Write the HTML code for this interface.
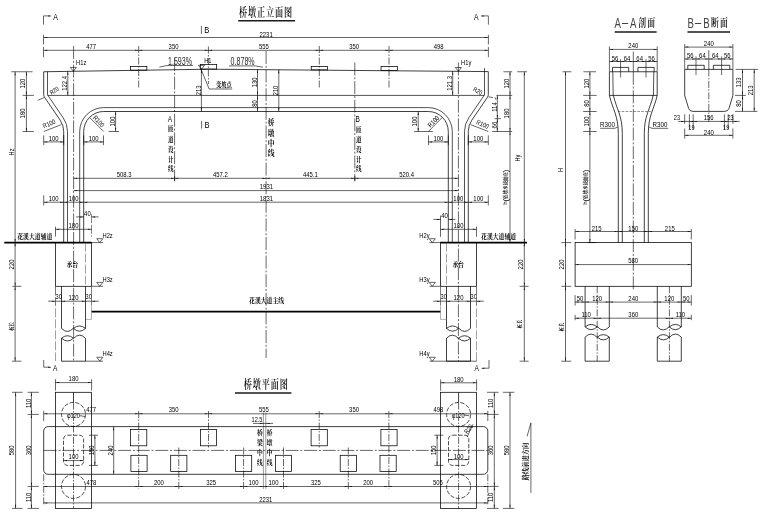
<!DOCTYPE html>
<html lang="zh">
<head>
<meta charset="utf-8">
<title>桥墩正立面图</title>
<style>
html,body{margin:0;padding:0;background:#fff;}
body{width:760px;height:518px;overflow:hidden;}
svg{display:block;will-change:transform;}
.l{fill:none;stroke:#000;stroke-width:0.75;}
.d{fill:none;stroke:#000;stroke-width:0.6;}
.m{fill:none;stroke:#000;stroke-width:0.68;}
.g{fill:none;stroke:#555;stroke-width:0.55;stroke-dasharray:9 2;}
.g2{fill:none;stroke:#222;stroke-width:0.55;stroke-dasharray:9 1.6;}
.d2{fill:none;stroke:#333;stroke-width:0.5;}
.gs{fill:none;stroke:#666;stroke-width:0.5;}
.k{fill:none;stroke:#000;stroke-width:1.7;}
.u{fill:none;stroke:#1a1a1a;stroke-width:1.45;}
.cl{fill:none;stroke:#000;stroke-width:0.6;stroke-dasharray:13 1.8 2 1.8;}
.cs{fill:none;stroke:#000;stroke-width:0.6;stroke-dasharray:7 1.5 1.5 1.5;}
.hd{fill:none;stroke:#000;stroke-width:0.7;stroke-dasharray:4.2 1.6;}
.hs{fill:none;stroke:#333;stroke-width:0.55;stroke-dasharray:2.6 1.3;}
.a{fill:#000;stroke:none;}
text{fill:#000;}
.t{font-family:"Liberation Sans",sans-serif;}
.c{font-family:"Liberation Serif","Noto Serif CJK SC","Noto Sans CJK SC",serif;font-weight:700;}
.cb{font-weight:600;}
.tl{fill:#444;}
.ts{fill:#2a2a2a;}
</style>
</head>
<body>
<svg width="760" height="518" viewBox="0 0 760 518">
<rect x="0" y="0" width="760" height="518" fill="#fff"/>
<path class="l" d="M43.7,71.75 L208.5,69.2 L488.3,71.6"/>
<line class="m" x1="47.7" y1="95.4" x2="484.3" y2="95.4"/>
<path class="l" d="M43.7,71.75 V94.5 Q43.7,96 44.5,97.2 L60.22,120.23 A20,20 0 0 1 63.7,131.5 V242.6"/>
<path class="m" d="M47.5,71.75 V94.83 L63.36,118.09 A23.8,23.8 0 0 1 67.5,131.5 V242.6"/>
<path class="l" d="M488.3,71.6 V94.5 Q488.3,96 487.5,97.2 L471.78,120.23 A20,20 0 0 0 468.3,131.5 V242.6"/>
<path class="m" d="M484.5,68.1 V94.83 L468.64,118.09 A23.8,23.8 0 0 0 464.5,131.5 V242.6"/>
<path class="m" d="M79.7,242.6 V131.5 A24,24 0 0 1 103.7,107.6 H428.3 A24,24 0 0 1 452.3,131.5 V242.6"/>
<path class="l" d="M83.7,242.6 V131.5 A20,20 0 0 1 103.7,111.5 H428.3 A20,20 0 0 1 448.3,131.5 V242.6"/>
<rect class="l" x="130.55" y="66.5" width="16.3" height="3.7"/>
<rect class="l" x="200.35" y="64.6" width="16.3" height="4.5"/>
<rect class="l" x="311.25" y="66.4" width="16.3" height="3.5"/>
<rect class="l" x="381.05" y="66.6" width="16.3" height="3.9"/>
<line class="cs" x1="138.7" y1="46" x2="138.7" y2="89"/>
<line class="cs" x1="319.3" y1="46" x2="319.3" y2="89"/>
<line class="cs" x1="389" y1="46" x2="389" y2="89"/>
<line class="cs" x1="208.4" y1="46.5" x2="208.4" y2="84"/>
<line class="k" x1="4.3" y1="242.6" x2="91.5" y2="242.6"/>
<line class="k" x1="440.5" y1="242.6" x2="527" y2="242.6"/>
<line class="k" x1="91.5" y1="311.6" x2="440.5" y2="311.6"/>
<rect class="l" x="55.5" y="242.6" width="36" height="43.7"/>
<rect class="l" x="440.5" y="242.6" width="36" height="43.7"/>
<line class="l" x1="61.5" y1="286.3" x2="61.5" y2="328.4"/>
<line class="l" x1="85.5" y1="286.3" x2="85.5" y2="328.4"/>
<line class="l" x1="61.5" y1="338.2" x2="61.5" y2="361.2"/>
<line class="l" x1="85.5" y1="338.2" x2="85.5" y2="361.2"/>
<line class="l" x1="61.5" y1="361.2" x2="85.5" y2="361.2"/>
<path class="l" d="M61.5,328.4 Q67.5,334.6 73.5,328.1"/>
<path class="l" d="M73.5,328.4 Q79.5,323.44 85.5,328.4 Q79.5,333.98 73.5,328.4"/>
<path class="l" d="M61.5,338.2 Q67.5,333.24 73.5,338.2 Q67.5,343.78 61.5,338.2"/>
<path class="l" d="M73.5,338.5 Q79.5,332 85.5,338.2"/>
<line class="l" x1="446.5" y1="286.3" x2="446.5" y2="328.4"/>
<line class="l" x1="470.5" y1="286.3" x2="470.5" y2="328.4"/>
<line class="l" x1="446.5" y1="338.2" x2="446.5" y2="361.2"/>
<line class="l" x1="470.5" y1="338.2" x2="470.5" y2="361.2"/>
<line class="l" x1="446.5" y1="361.2" x2="470.5" y2="361.2"/>
<path class="l" d="M470.5,328.4 Q464.5,334.6 458.5,328.1"/>
<path class="l" d="M458.5,328.4 Q452.5,323.44 446.5,328.4 Q452.5,333.98 458.5,328.4"/>
<path class="l" d="M470.5,338.2 Q464.5,333.24 458.5,338.2 Q464.5,343.78 470.5,338.2"/>
<path class="l" d="M458.5,338.5 Q452.5,332 446.5,338.2"/>
<line class="cl" x1="73.6" y1="46" x2="73.6" y2="361.2"/>
<line class="cl" x1="458.4" y1="62.5" x2="458.4" y2="361.2"/>
<line class="cl" x1="266.1" y1="51" x2="266.1" y2="358"/>
<line class="cl" x1="174.6" y1="58" x2="174.6" y2="181"/>
<line class="cl" x1="354.8" y1="62.5" x2="354.8" y2="181"/>
<line class="g" x1="85.5" y1="242.6" x2="85.5" y2="286.3"/>
<line class="g" x1="446.5" y1="242.6" x2="446.5" y2="286.3"/>
<line class="g" x1="55.5" y1="286.3" x2="55.5" y2="361.2"/>
<line class="g" x1="476.5" y1="286.3" x2="476.5" y2="361.2"/>
<path class="gs" d="M91.5,286.3 V319.4 H85.5"/>
<path class="gs" d="M440.5,286.3 V319.4 H446.5"/>
<line class="d" x1="85.5" y1="361.2" x2="103" y2="361.2"/>
<line class="d" x1="429.5" y1="361.2" x2="476.5" y2="361.2"/>
<line class="d" x1="43.5" y1="34.8" x2="43.5" y2="44.3"/>
<line class="d" x1="43.5" y1="47" x2="43.5" y2="57.2"/>
<line class="d" x1="488.4" y1="34.8" x2="488.4" y2="44.3"/>
<line class="d" x1="488.4" y1="47" x2="488.4" y2="57.2"/>
<line class="d" x1="43.7" y1="37.5" x2="488.3" y2="37.5"/>
<polygon class="a" points="43.7,37.5 47.3,37 47.3,38"/>
<polygon class="a" points="488.3,37.5 484.7,38 484.7,37"/>
<text class="t" transform="translate(266.1 33.9) scale(0.8 1)" y="2.66" font-size="7.4" text-anchor="middle">2231</text>
<line class="d" x1="43.7" y1="50.3" x2="488.3" y2="50.3"/>
<polygon class="a" points="43.7,50.3 47.3,49.8 47.3,50.8"/>
<polygon class="a" points="138.7,50.3 135.1,50.8 135.1,49.8"/>
<polygon class="a" points="138.7,50.3 142.3,49.8 142.3,50.8"/>
<polygon class="a" points="208.4,50.3 204.8,50.8 204.8,49.8"/>
<polygon class="a" points="208.4,50.3 212,49.8 212,50.8"/>
<polygon class="a" points="319.3,50.3 315.7,50.8 315.7,49.8"/>
<polygon class="a" points="319.3,50.3 322.9,49.8 322.9,50.8"/>
<polygon class="a" points="389,50.3 385.4,50.8 385.4,49.8"/>
<polygon class="a" points="389,50.3 392.6,49.8 392.6,50.8"/>
<polygon class="a" points="488.3,50.3 484.7,50.8 484.7,49.8"/>
<text class="t" transform="translate(91.2 46.5) scale(0.8 1)" y="2.66" font-size="7.4" text-anchor="middle">477</text>
<text class="t" transform="translate(173.55 46.5) scale(0.8 1)" y="2.66" font-size="7.4" text-anchor="middle">350</text>
<text class="t" transform="translate(263.85 46.5) scale(0.8 1)" y="2.66" font-size="7.4" text-anchor="middle">555</text>
<text class="t" transform="translate(354.15 46.5) scale(0.8 1)" y="2.66" font-size="7.4" text-anchor="middle">350</text>
<text class="t" transform="translate(438.65 46.5) scale(0.8 1)" y="2.66" font-size="7.4" text-anchor="middle">498</text>
<path class="d" d="M43.5,24.7 V15.9 H50.5"/>
<polygon class="a" points="51.8,15.9 48.2,16.4 48.2,15.4"/>
<text class="t" transform="translate(55.5 16.5) scale(0.73 1)" y="3.38" font-size="9.4" text-anchor="middle">A</text>
<path class="d" d="M488.4,24.7 V15.9 H481.5"/>
<polygon class="a" points="480.2,15.9 483.8,15.4 483.8,16.4"/>
<text class="t" transform="translate(476.4 16.6) scale(0.73 1)" y="3.38" font-size="9.4" text-anchor="middle">A</text>
<path class="d" d="M43.7,360 V367.2 H50.5"/>
<polygon class="a" points="51.6,367.2 48,367.7 48,366.7"/>
<text class="t" transform="translate(55.3 368.2) scale(0.73 1)" y="3.24" font-size="9" text-anchor="middle">A</text>
<path class="d" d="M489,360 V368.2 H482"/>
<polygon class="a" points="480.9,368.2 484.5,367.7 484.5,368.7"/>
<text class="t" transform="translate(476.7 368.2) scale(0.73 1)" y="3.24" font-size="9" text-anchor="middle">A</text>
<line class="d" x1="201.4" y1="25.9" x2="201.4" y2="33.9"/>
<text class="t" transform="translate(206.8 29.8) scale(0.82 1)" y="3.31" font-size="9.2" text-anchor="middle">B</text>
<line class="d" x1="201.6" y1="120.8" x2="201.6" y2="128.7"/>
<text class="t" transform="translate(207 124.7) scale(0.82 1)" y="3.31" font-size="9.2" text-anchor="middle">B</text>
<text class="c cb" transform="translate(265.6 12.8) scale(0.66 1)" y="4.43" font-size="12.3" text-anchor="middle" letter-spacing="1.35" x="0.68">桥墩正立面图</text>
<line class="u" x1="238.2" y1="20.7" x2="295" y2="20.7"/>
<text class="t ts" transform="translate(180 61.3) scale(0.71 1)" y="3.6" font-size="10" text-anchor="middle">1.593%</text>
<path class="d" d="M192.8,65.5 H167.1 L159.4,67.1"/>
<text class="t ts" transform="translate(242.6 61.6) scale(0.71 1)" y="3.6" font-size="10" text-anchor="middle">0.878%</text>
<path class="d" d="M229,65.9 H255.2 L262.9,67.2"/>
<path class="d" d="M73.4,71.3 L70.35,67.4 L76.45,67.4 Z"/>
<text class="t" transform="translate(76.1 61.9) scale(0.76 1)" y="2.74" font-size="7.6" text-anchor="start">H1z</text>
<path class="d" d="M201.5,69.2 L198.45,65.3 L204.55,65.3 Z"/>
<text class="t" transform="translate(204.2 60.6) scale(0.76 1)" y="2.74" font-size="7.6" text-anchor="start">H1</text>
<path class="d" d="M458.4,71.4 L455.35,67.5 L461.45,67.5 Z"/>
<text class="t" transform="translate(461.1 62.2) scale(0.76 1)" y="2.74" font-size="7.6" text-anchor="start">H1y</text>
<line class="d" x1="91.5" y1="242.6" x2="103" y2="242.6"/>
<path class="d" d="M99.8,242.6 L96.75,238.7 L102.85,238.7 Z"/>
<text class="t" transform="translate(102.5 235.1) scale(0.76 1)" y="2.74" font-size="7.6" text-anchor="start">H2z</text>
<line class="d" x1="91.5" y1="286.3" x2="103" y2="286.3"/>
<path class="d" d="M99.8,286.3 L96.75,282.4 L102.85,282.4 Z"/>
<text class="t" transform="translate(102.5 278.8) scale(0.76 1)" y="2.74" font-size="7.6" text-anchor="start">H3z</text>
<path class="d" d="M99.8,361.2 L96.75,357.3 L102.85,357.3 Z"/>
<text class="t" transform="translate(102.5 353.7) scale(0.76 1)" y="2.74" font-size="7.6" text-anchor="start">H4z</text>
<line class="d" x1="429.5" y1="242.6" x2="440.5" y2="242.6"/>
<path class="d" d="M432.3,242.6 L429.25,238.7 L435.35,238.7 Z"/>
<text class="t" transform="translate(429.6 235.1) scale(0.76 1)" y="2.74" font-size="7.6" text-anchor="end">H2y</text>
<line class="d" x1="429.5" y1="286.3" x2="440.5" y2="286.3"/>
<path class="d" d="M432.3,286.3 L429.25,282.4 L435.35,282.4 Z"/>
<text class="t" transform="translate(429.6 278.8) scale(0.76 1)" y="2.74" font-size="7.6" text-anchor="end">H3y</text>
<path class="d" d="M432.3,361.2 L429.25,357.3 L435.35,357.3 Z"/>
<text class="t" transform="translate(429.6 353.7) scale(0.76 1)" y="2.74" font-size="7.6" text-anchor="end">H4y</text>
<path class="d" d="M201,69.2 L209.2,89 H232.2"/>
<text class="c" transform="translate(223.9 84.6) scale(0.81 1)" y="2.34" font-size="6.5" text-anchor="middle">变坡点</text>
<line class="d" x1="67.8" y1="71.2" x2="67.8" y2="95.4"/>
<polygon class="a" points="67.8,71.2 68.3,74.8 67.3,74.8"/>
<polygon class="a" points="67.8,95.4 67.3,91.8 68.3,91.8"/>
<text class="t" transform="translate(64 83.3) rotate(-90) scale(0.8 1)" y="2.66" font-size="7.4" text-anchor="middle">122.4</text>
<line class="d" x1="201.4" y1="69.2" x2="201.4" y2="111.5"/>
<polygon class="a" points="201.4,69.2 201.9,72.8 200.9,72.8"/>
<polygon class="a" points="201.4,111.5 200.9,107.9 201.9,107.9"/>
<text class="t" transform="translate(198.1 90.35) rotate(-90) scale(0.8 1)" y="2.66" font-size="7.4" text-anchor="middle">213</text>
<line class="d" x1="257.5" y1="69.4" x2="257.5" y2="111.5"/>
<polygon class="a" points="257.5,69.4 258,73 257,73"/>
<polygon class="a" points="257.5,95.4 257,91.8 258,91.8"/>
<polygon class="a" points="257.5,95.4 258,99 257,99"/>
<polygon class="a" points="257.5,111.5 257,107.9 258,107.9"/>
<text class="t" transform="translate(254.3 82.4) rotate(-90) scale(0.8 1)" y="2.66" font-size="7.4" text-anchor="middle">130</text>
<text class="t" transform="translate(254.3 103.45) rotate(-90) scale(0.8 1)" y="2.66" font-size="7.4" text-anchor="middle">80</text>
<line class="d" x1="278.8" y1="69.6" x2="278.8" y2="111.5"/>
<polygon class="a" points="278.8,69.6 279.3,73.2 278.3,73.2"/>
<polygon class="a" points="278.8,111.5 278.3,107.9 279.3,107.9"/>
<text class="t" transform="translate(275.2 90.55) rotate(-90) scale(0.8 1)" y="2.66" font-size="7.4" text-anchor="middle">210</text>
<line class="d" x1="452.7" y1="71.2" x2="452.7" y2="95.4"/>
<polygon class="a" points="452.7,71.2 453.2,74.8 452.2,74.8"/>
<polygon class="a" points="452.7,95.4 452.2,91.8 453.2,91.8"/>
<text class="t" transform="translate(449.3 83.3) rotate(-90) scale(0.8 1)" y="2.66" font-size="7.4" text-anchor="middle">121.3</text>
<line class="d" x1="115.6" y1="111.5" x2="115.6" y2="131.5"/>
<polygon class="a" points="115.6,111.5 116.1,115.1 115.1,115.1"/>
<polygon class="a" points="115.6,131.5 115.1,127.9 116.1,127.9"/>
<text class="t" transform="translate(112.1 121.5) rotate(-90) scale(0.8 1)" y="2.66" font-size="7.4" text-anchor="middle">100</text>
<line class="d" x1="108.6" y1="131.5" x2="119" y2="131.5"/>
<line class="d" x1="418.2" y1="111.5" x2="418.2" y2="131.5"/>
<polygon class="a" points="418.2,111.5 418.7,115.1 417.7,115.1"/>
<polygon class="a" points="418.2,131.5 417.7,127.9 418.7,127.9"/>
<text class="t" transform="translate(414.2 121.5) rotate(-90) scale(0.8 1)" y="2.66" font-size="7.4" text-anchor="middle">100</text>
<line class="d" x1="414" y1="131.5" x2="432.8" y2="131.5"/>
<line class="d" x1="103.7" y1="131.5" x2="89.6" y2="117.4"/>
<text class="t" transform="translate(98.8 121.2) rotate(45) scale(0.8 1)" y="2.45" font-size="6.8" text-anchor="middle">R100</text>
<line class="d" x1="428.3" y1="131.5" x2="442.4" y2="117.4"/>
<text class="t" transform="translate(433.4 121.4) rotate(-45) scale(0.8 1)" y="2.45" font-size="6.8" text-anchor="middle">R100</text>
<line class="d" x1="43.7" y1="131.5" x2="61.4" y2="124.6"/>
<text class="t" transform="translate(49 123.6) rotate(-24) scale(0.8 1)" y="2.45" font-size="6.8" text-anchor="middle">R100</text>
<line class="d" x1="488.3" y1="131.5" x2="470.6" y2="124.6"/>
<text class="t" transform="translate(482.6 124.2) rotate(24) scale(0.8 1)" y="2.45" font-size="6.8" text-anchor="middle">R100</text>
<line class="d" x1="37.7" y1="100.4" x2="44" y2="97.6"/>
<text class="t" transform="translate(54.2 90.6) rotate(-32) scale(0.8 1)" y="2.3" font-size="6.4" text-anchor="middle">R20</text>
<line class="d" x1="488.4" y1="96.8" x2="493" y2="97.6"/>
<line class="d" x1="495" y1="97.4" x2="496" y2="99.8"/>
<text class="t" transform="translate(477.8 90.8) rotate(30) scale(0.8 1)" y="2.3" font-size="6.4" text-anchor="middle">R20</text>
<line class="d" x1="43.7" y1="141.9" x2="63.7" y2="141.9"/>
<polygon class="a" points="43.7,141.9 47.3,141.4 47.3,142.4"/>
<line class="d" x1="43.7" y1="135.4" x2="43.7" y2="145.1"/>
<polygon class="a" points="63.7,141.9 60.1,142.4 60.1,141.4"/>
<line class="d" x1="63.7" y1="135.4" x2="63.7" y2="145.1"/>
<text class="t" transform="translate(53.7 138.7) scale(0.8 1)" y="2.66" font-size="7.4" text-anchor="middle">100</text>
<line class="d" x1="83.7" y1="141.9" x2="103.5" y2="141.9"/>
<polygon class="a" points="83.7,141.9 87.3,141.4 87.3,142.4"/>
<line class="d" x1="83.7" y1="135.4" x2="83.7" y2="145.1"/>
<polygon class="a" points="103.5,141.9 99.9,142.4 99.9,141.4"/>
<line class="d" x1="103.5" y1="135.4" x2="103.5" y2="145.1"/>
<text class="t" transform="translate(93.6 138.7) scale(0.8 1)" y="2.66" font-size="7.4" text-anchor="middle">100</text>
<line class="d" x1="428.5" y1="141.9" x2="448.3" y2="141.9"/>
<polygon class="a" points="428.5,141.9 432.1,141.4 432.1,142.4"/>
<line class="d" x1="428.5" y1="135.4" x2="428.5" y2="145.1"/>
<polygon class="a" points="448.3,141.9 444.7,142.4 444.7,141.4"/>
<line class="d" x1="448.3" y1="135.4" x2="448.3" y2="145.1"/>
<text class="t" transform="translate(438.4 138.7) scale(0.8 1)" y="2.66" font-size="7.4" text-anchor="middle">100</text>
<line class="d" x1="468.3" y1="141.9" x2="488.3" y2="141.9"/>
<polygon class="a" points="468.3,141.9 471.9,141.4 471.9,142.4"/>
<line class="d" x1="468.3" y1="135.4" x2="468.3" y2="145.1"/>
<polygon class="a" points="488.3,141.9 484.7,142.4 484.7,141.4"/>
<line class="d" x1="488.3" y1="135.4" x2="488.3" y2="145.1"/>
<text class="t" transform="translate(478.3 138.7) scale(0.8 1)" y="2.66" font-size="7.4" text-anchor="middle">100</text>
<line class="d" x1="73.6" y1="178.3" x2="458.4" y2="178.3"/>
<polygon class="a" points="73.6,178.3 77.2,177.8 77.2,178.8"/>
<polygon class="a" points="174.6,178.3 171,178.8 171,177.8"/>
<polygon class="a" points="174.6,178.3 178.2,177.8 178.2,178.8"/>
<polygon class="a" points="266.1,178.3 262.5,178.8 262.5,177.8"/>
<polygon class="a" points="266.1,178.3 269.7,177.8 269.7,178.8"/>
<polygon class="a" points="354.8,178.3 351.2,178.8 351.2,177.8"/>
<polygon class="a" points="354.8,178.3 358.4,177.8 358.4,178.8"/>
<polygon class="a" points="458.4,178.3 454.8,178.8 454.8,177.8"/>
<text class="t" transform="translate(124.1 174.4) scale(0.8 1)" y="2.66" font-size="7.4" text-anchor="middle">508.3</text>
<text class="t" transform="translate(220.35 174.4) scale(0.8 1)" y="2.66" font-size="7.4" text-anchor="middle">457.2</text>
<text class="t" transform="translate(310.45 174.4) scale(0.8 1)" y="2.66" font-size="7.4" text-anchor="middle">445.1</text>
<text class="t" transform="translate(406.6 174.4) scale(0.8 1)" y="2.66" font-size="7.4" text-anchor="middle">520.4</text>
<line class="d" x1="174.6" y1="176" x2="174.6" y2="181.3"/>
<line class="d" x1="354.8" y1="176" x2="354.8" y2="181.3"/>
<line class="d" x1="73.6" y1="190.6" x2="458.4" y2="190.6"/>
<polygon class="a" points="73.6,190.6 77.2,190.1 77.2,191.1"/>
<polygon class="a" points="458.4,190.6 454.8,191.1 454.8,190.1"/>
<text class="t" transform="translate(266.4 186.8) scale(0.8 1)" y="2.66" font-size="7.4" text-anchor="middle">1931</text>
<line class="d" x1="43.7" y1="202.2" x2="488.3" y2="202.2"/>
<polygon class="a" points="43.7,202.2 47.3,201.7 47.3,202.7"/>
<polygon class="a" points="63.7,202.2 60.1,202.7 60.1,201.7"/>
<polygon class="a" points="63.7,202.2 67.3,201.7 67.3,202.7"/>
<polygon class="a" points="83.7,202.2 80.1,202.7 80.1,201.7"/>
<polygon class="a" points="83.7,202.2 87.3,201.7 87.3,202.7"/>
<polygon class="a" points="448.3,202.2 444.7,202.7 444.7,201.7"/>
<polygon class="a" points="448.3,202.2 451.9,201.7 451.9,202.7"/>
<polygon class="a" points="468.3,202.2 464.7,202.7 464.7,201.7"/>
<polygon class="a" points="468.3,202.2 471.9,201.7 471.9,202.7"/>
<polygon class="a" points="488.3,202.2 484.7,202.7 484.7,201.7"/>
<text class="t" transform="translate(53.7 198.8) scale(0.8 1)" y="2.66" font-size="7.4" text-anchor="middle">100</text>
<text class="t" transform="translate(73.7 198.8) scale(0.8 1)" y="2.66" font-size="7.4" text-anchor="middle">100</text>
<text class="t" transform="translate(458.3 198.8) scale(0.8 1)" y="2.66" font-size="7.4" text-anchor="middle">100</text>
<text class="t" transform="translate(478.3 198.8) scale(0.8 1)" y="2.66" font-size="7.4" text-anchor="middle">100</text>
<text class="t" transform="translate(266.4 198.5) scale(0.8 1)" y="2.66" font-size="7.4" text-anchor="middle">1831</text>
<line class="d" x1="43.7" y1="195.3" x2="43.7" y2="205.4"/>
<line class="d" x1="488.3" y1="195.3" x2="488.3" y2="205.4"/>
<line class="d" x1="76.1" y1="216.9" x2="83.7" y2="216.9"/>
<line class="d" x1="91.5" y1="216.9" x2="98.6" y2="216.9"/>
<polygon class="a" points="83.7,216.9 80.1,217.4 80.1,216.4"/>
<polygon class="a" points="91.5,216.9 95.1,216.4 95.1,217.4"/>
<text class="t" transform="translate(87.4 213.3) scale(0.8 1)" y="2.66" font-size="7.4" text-anchor="middle">40</text>
<line class="g2" x1="91.5" y1="214.2" x2="91.5" y2="236.7"/>
<line class="d" x1="433.3" y1="219.4" x2="440.5" y2="219.4"/>
<line class="d" x1="448.3" y1="219.4" x2="455.4" y2="219.4"/>
<polygon class="a" points="440.5,219.4 436.9,219.9 436.9,218.9"/>
<polygon class="a" points="448.3,219.4 451.9,218.9 451.9,219.9"/>
<text class="t" transform="translate(444.5 215.6) scale(0.8 1)" y="2.66" font-size="7.4" text-anchor="middle">40</text>
<line class="d" x1="440.5" y1="215.5" x2="440.5" y2="236.8"/>
<line class="d" x1="55.5" y1="229.3" x2="91.5" y2="229.3"/>
<polygon class="a" points="55.5,229.3 59.1,228.8 59.1,229.8"/>
<polygon class="a" points="91.5,229.3 87.9,229.8 87.9,228.8"/>
<text class="t" transform="translate(73.5 225.7) scale(0.8 1)" y="2.66" font-size="7.4" text-anchor="middle">180</text>
<line class="d" x1="55.5" y1="226.6" x2="55.5" y2="236.5"/>
<line class="d" x1="440.5" y1="229.3" x2="476.5" y2="229.3"/>
<polygon class="a" points="440.5,229.3 444.1,228.8 444.1,229.8"/>
<polygon class="a" points="476.5,229.3 472.9,229.8 472.9,228.8"/>
<text class="t" transform="translate(458.5 225.7) scale(0.8 1)" y="2.66" font-size="7.4" text-anchor="middle">180</text>
<line class="d" x1="476.5" y1="226.6" x2="476.5" y2="236.8"/>
<text class="c" transform="translate(34.8 236.4) scale(0.89 1)" y="2.38" font-size="6.6" text-anchor="middle">花溪大道辅道</text>
<text class="c" transform="translate(498.6 236.5) scale(0.89 1)" y="2.38" font-size="6.6" text-anchor="middle">花溪大道辅道</text>
<text class="c" transform="translate(266.6 300.8) scale(0.89 1)" y="2.38" font-size="6.6" text-anchor="middle">花溪大道主线</text>
<text class="c" transform="translate(72.4 264) scale(0.8 1)" y="2.52" font-size="7" text-anchor="middle">承台</text>
<text class="c" transform="translate(458.3 264.4) scale(0.8 1)" y="2.52" font-size="7" text-anchor="middle">承台</text>
<text class="t" transform="translate(170 118.8) scale(0.8 1)" y="2.95" font-size="8.2" text-anchor="middle">A</text>
<text class="c" transform="scale(0.8 1)" x="213.5 213.5 213.5 213.5 213.5" y="131.18 141.78 151.78 161.58 170.88" font-size="6.9" text-anchor="middle">匝道设计线</text>
<text class="t" transform="translate(357.8 119.4) scale(0.8 1)" y="2.95" font-size="8.2" text-anchor="middle">B</text>
<text class="c" transform="scale(0.8 1)" x="448.37 448.37 448.37 448.37 448.37" y="131.78 141.78 151.88 162.08 171.48" font-size="6.9" text-anchor="middle">匝道设计线</text>
<text class="c" transform="scale(0.8 1)" x="338.88 338.88 338.88 338.88" y="125.32 135.92 145.92 155.72" font-size="8.4" text-anchor="middle">桥墩中线</text>
<line class="d" x1="48.2" y1="301.2" x2="98.8" y2="301.2"/>
<polygon class="a" points="55.5,301.2 51.9,301.7 51.9,300.7"/>
<polygon class="a" points="61.5,301.2 65.1,300.7 65.1,301.7"/>
<polygon class="a" points="85.5,301.2 81.9,301.7 81.9,300.7"/>
<polygon class="a" points="91.5,301.2 95.1,300.7 95.1,301.7"/>
<text class="t" transform="translate(58.7 296.6) scale(0.8 1)" y="2.52" font-size="7" text-anchor="middle">30</text>
<text class="t" transform="translate(73.5 297.4) scale(0.8 1)" y="2.66" font-size="7.4" text-anchor="middle">120</text>
<text class="t" transform="translate(88.7 296.6) scale(0.8 1)" y="2.52" font-size="7" text-anchor="middle">30</text>
<line class="g" x1="55.5" y1="286.3" x2="55.5" y2="305"/>
<line class="g" x1="91.5" y1="286.3" x2="91.5" y2="305"/>
<line class="d" x1="433.2" y1="301.2" x2="483.8" y2="301.2"/>
<polygon class="a" points="440.5,301.2 436.9,301.7 436.9,300.7"/>
<polygon class="a" points="446.5,301.2 450.1,300.7 450.1,301.7"/>
<polygon class="a" points="470.5,301.2 466.9,301.7 466.9,300.7"/>
<polygon class="a" points="476.5,301.2 480.1,300.7 480.1,301.7"/>
<text class="t" transform="translate(443.7 296.6) scale(0.8 1)" y="2.52" font-size="7" text-anchor="middle">30</text>
<text class="t" transform="translate(458.5 297.4) scale(0.8 1)" y="2.66" font-size="7.4" text-anchor="middle">120</text>
<text class="t" transform="translate(473.7 296.6) scale(0.8 1)" y="2.52" font-size="7" text-anchor="middle">30</text>
<line class="g" x1="440.5" y1="286.3" x2="440.5" y2="305"/>
<line class="g" x1="476.5" y1="286.3" x2="476.5" y2="305"/>
<line class="d" x1="26.4" y1="71.75" x2="26.4" y2="131.5"/>
<polygon class="a" points="26.4,71.75 26.9,75.35 25.9,75.35"/>
<polygon class="a" points="26.4,95.4 25.9,91.8 26.9,91.8"/>
<polygon class="a" points="26.4,95.4 26.9,99 25.9,99"/>
<polygon class="a" points="26.4,131.5 25.9,127.9 26.9,127.9"/>
<text class="t" transform="translate(22.6 83.58) rotate(-90) scale(0.8 1)" y="2.66" font-size="7.4" text-anchor="middle">120</text>
<text class="t" transform="translate(22.6 113.45) rotate(-90) scale(0.8 1)" y="2.66" font-size="7.4" text-anchor="middle">180</text>
<line class="d" x1="18.8" y1="71.75" x2="32.6" y2="71.75"/>
<line class="d" x1="22.6" y1="95.4" x2="33.9" y2="95.4"/>
<line class="d" x1="22.6" y1="131.5" x2="33.9" y2="131.5"/>
<line class="d" x1="15.1" y1="71.75" x2="15.1" y2="361.2"/>
<polygon class="a" points="15.1,71.75 15.6,75.35 14.6,75.35"/>
<polygon class="a" points="15.1,242.6 14.6,239 15.6,239"/>
<polygon class="a" points="15.1,242.6 15.6,246.2 14.6,246.2"/>
<polygon class="a" points="15.1,286.3 14.6,282.7 15.6,282.7"/>
<polygon class="a" points="15.1,286.3 15.6,289.9 14.6,289.9"/>
<polygon class="a" points="15.1,361.2 14.6,357.6 15.6,357.6"/>
<text class="t" transform="translate(11.6 264.45) rotate(-90) scale(0.8 1)" y="2.66" font-size="7.4" text-anchor="middle">220</text>
<line class="d" x1="11.3" y1="71.75" x2="18.8" y2="71.75"/>
<line class="d" x1="12.4" y1="286.3" x2="21.4" y2="286.3"/>
<line class="d" x1="12" y1="361.2" x2="21.4" y2="361.2"/>
<text class="t" transform="translate(11.3 152) rotate(-90) scale(0.8 1)" y="2.52" font-size="7" text-anchor="middle">Hz</text>
<text class="c" transform="translate(11.6 326.6) rotate(-90) scale(0.95 1)" y="1.62" font-size="4.5" text-anchor="middle">桩长</text>
<line class="d" x1="510" y1="71.75" x2="510" y2="242.6"/>
<polygon class="a" points="510,71.75 510.5,75.35 509.5,75.35"/>
<polygon class="a" points="510,95.4 509.5,91.8 510.5,91.8"/>
<polygon class="a" points="510,95.4 510.5,99 509.5,99"/>
<polygon class="a" points="510,131.5 509.5,127.9 510.5,127.9"/>
<polygon class="a" points="510,131.5 510.5,135.1 509.5,135.1"/>
<polygon class="a" points="510,242.6 509.5,239 510.5,239"/>
<text class="t" transform="translate(506.4 83.58) rotate(-90) scale(0.8 1)" y="2.66" font-size="7.4" text-anchor="middle">120</text>
<text class="t" transform="translate(506.4 113.45) rotate(-90) scale(0.8 1)" y="2.66" font-size="7.4" text-anchor="middle">180</text>
<line class="d" x1="503.4" y1="71.75" x2="512.2" y2="71.75"/>
<line class="d" x1="496.5" y1="95.4" x2="512.2" y2="95.4"/>
<line class="d" x1="492.1" y1="131.5" x2="512.2" y2="131.5"/>
<line class="d" x1="524.3" y1="71.75" x2="524.3" y2="361.2"/>
<polygon class="a" points="524.3,71.75 524.8,75.35 523.8,75.35"/>
<polygon class="a" points="524.3,242.6 523.8,239 524.8,239"/>
<polygon class="a" points="524.3,242.6 524.8,246.2 523.8,246.2"/>
<polygon class="a" points="524.3,286.3 523.8,282.7 524.8,282.7"/>
<polygon class="a" points="524.3,286.3 524.8,289.9 523.8,289.9"/>
<polygon class="a" points="524.3,361.2 523.8,357.6 524.8,357.6"/>
<text class="t" transform="translate(520.6 264.45) rotate(-90) scale(0.8 1)" y="2.66" font-size="7.4" text-anchor="middle">220</text>
<line class="d" x1="517.3" y1="71.75" x2="527" y2="71.75"/>
<line class="d" x1="519.6" y1="286.3" x2="528.6" y2="286.3"/>
<line class="d" x1="519.6" y1="361.2" x2="528.6" y2="361.2"/>
<text class="t" transform="translate(517.6 158.2) rotate(-90) scale(0.8 1)" y="2.52" font-size="7" text-anchor="middle">Hy</text>
<text class="c" transform="translate(519.8 324) rotate(-90) scale(0.95 1)" y="1.62" font-size="4.5" text-anchor="middle">桩长</text>
<line class="d" x1="497.3" y1="95.4" x2="497.3" y2="131.5"/>
<polygon class="a" points="497.3,95.4 497.8,99 496.8,99"/>
<polygon class="a" points="497.3,118.7 496.8,115.1 497.8,115.1"/>
<polygon class="a" points="497.3,118.7 497.8,122.3 496.8,122.3"/>
<polygon class="a" points="497.3,131.5 496.8,127.9 497.8,127.9"/>
<text class="t" transform="translate(493.9 107.05) rotate(-90) scale(0.8 1)" y="2.66" font-size="7.4" text-anchor="middle">114</text>
<text class="t" transform="translate(493.9 125.1) rotate(-90) scale(0.8 1)" y="2.66" font-size="7.4" text-anchor="middle">66</text>
<line class="d" x1="494.7" y1="118.7" x2="500.8" y2="118.7"/>
<text class="t" transform="translate(505.2 187.1) rotate(-90) scale(1.04 1)" y="1.87" font-size="5.2" text-anchor="middle">h<tspan font-size="7.4" dy="0.5">(</tspan><tspan class="c" font-size="4.3" dy="-0.9">依墩承载面底</tspan><tspan font-size="7.4" dy="0.9">)</tspan></text>
<rect class="l" x="55.5" y="392.3" width="36.1" height="116.1"/>
<rect class="l" x="440.6" y="392.3" width="36" height="116.1"/>
<rect class="l" x="43.7" y="426.6" width="444.1" height="47.7" rx="4.4"/>
<line class="cl" x1="43.7" y1="450.4" x2="487.8" y2="450.4"/>
<line class="l" x1="73.5" y1="392.3" x2="73.5" y2="402.5"/>
<line class="cs" x1="73.5" y1="402.5" x2="73.5" y2="508.4"/>
<line class="l" x1="458.6" y1="392.3" x2="458.6" y2="402.5"/>
<line class="cs" x1="458.6" y1="402.5" x2="458.6" y2="508.4"/>
<circle class="hd" cx="73.5" cy="414.4" r="12"/>
<circle class="hd" cx="73.5" cy="486.4" r="12"/>
<circle class="hd" cx="458.6" cy="414.4" r="12"/>
<circle class="hd" cx="458.6" cy="486.4" r="12"/>
<rect class="hd" x="63.5" y="435.2" width="20.1" height="30.2" rx="4"/>
<rect class="hd" x="448.5" y="435.2" width="20.3" height="30.2" rx="4"/>
<rect class="l" x="130.6" y="429.5" width="16.2" height="16.3"/>
<rect class="l" x="200.4" y="429.5" width="16.2" height="16.3"/>
<rect class="l" x="311.1" y="429.5" width="16.2" height="16.3"/>
<rect class="l" x="380.9" y="429.5" width="16.2" height="16.3"/>
<rect class="l" x="130.9" y="455.3" width="16.2" height="16.1"/>
<rect class="l" x="170.7" y="455.3" width="16.2" height="16.1"/>
<rect class="l" x="235.5" y="455.3" width="16.2" height="16.1"/>
<rect class="l" x="275.4" y="455.3" width="16.2" height="16.1"/>
<rect class="l" x="340.2" y="455.3" width="16.2" height="16.1"/>
<rect class="l" x="380" y="455.3" width="16.2" height="16.1"/>
<line class="cs" x1="138.7" y1="411" x2="138.7" y2="489"/>
<line class="cs" x1="388.9" y1="411" x2="388.9" y2="489"/>
<line class="cs" x1="208.5" y1="411" x2="208.5" y2="447.5"/>
<line class="cs" x1="319.2" y1="411" x2="319.2" y2="447.5"/>
<line class="cs" x1="178.8" y1="447.5" x2="178.8" y2="489"/>
<line class="cs" x1="243.6" y1="447.5" x2="243.6" y2="489"/>
<line class="cs" x1="283.5" y1="447.5" x2="283.5" y2="489"/>
<line class="cs" x1="348.3" y1="447.5" x2="348.3" y2="489"/>
<line class="d2" x1="263.4" y1="412.4" x2="263.4" y2="489"/>
<line class="d2" x1="265.8" y1="412.4" x2="265.8" y2="489"/>
<line class="d" x1="43.7" y1="413.8" x2="487.8" y2="413.8"/>
<polygon class="a" points="43.7,413.8 47.3,413.3 47.3,414.3"/>
<polygon class="a" points="138.7,413.8 135.1,414.3 135.1,413.3"/>
<polygon class="a" points="138.7,413.8 142.3,413.3 142.3,414.3"/>
<polygon class="a" points="208.5,413.8 204.9,414.3 204.9,413.3"/>
<polygon class="a" points="208.5,413.8 212.1,413.3 212.1,414.3"/>
<polygon class="a" points="319.2,413.8 315.6,414.3 315.6,413.3"/>
<polygon class="a" points="319.2,413.8 322.8,413.3 322.8,414.3"/>
<polygon class="a" points="388.9,413.8 385.3,414.3 385.3,413.3"/>
<polygon class="a" points="388.9,413.8 392.5,413.3 392.5,414.3"/>
<polygon class="a" points="487.8,413.8 484.2,414.3 484.2,413.3"/>
<text class="t" transform="translate(91.2 409.7) scale(0.8 1)" y="2.66" font-size="7.4" text-anchor="middle">477</text>
<text class="t" transform="translate(173.6 409.7) scale(0.8 1)" y="2.66" font-size="7.4" text-anchor="middle">350</text>
<text class="t" transform="translate(263.85 409.7) scale(0.8 1)" y="2.66" font-size="7.4" text-anchor="middle">555</text>
<text class="t" transform="translate(354.05 409.7) scale(0.8 1)" y="2.66" font-size="7.4" text-anchor="middle">350</text>
<text class="t" transform="translate(438.35 409.7) scale(0.8 1)" y="2.66" font-size="7.4" text-anchor="middle">498</text>
<line class="d" x1="43.7" y1="410.8" x2="43.7" y2="421"/>
<line class="d" x1="487.8" y1="410.8" x2="487.8" y2="421"/>
<line class="d" x1="43.7" y1="486.5" x2="487.8" y2="486.5"/>
<polygon class="a" points="43.7,486.5 47.3,486 47.3,487"/>
<polygon class="a" points="139,486.5 135.4,487 135.4,486"/>
<polygon class="a" points="139,486.5 142.6,486 142.6,487"/>
<polygon class="a" points="178.8,486.5 175.2,487 175.2,486"/>
<polygon class="a" points="178.8,486.5 182.4,486 182.4,487"/>
<polygon class="a" points="243.6,486.5 240,487 240,486"/>
<polygon class="a" points="243.6,486.5 247.2,486 247.2,487"/>
<polygon class="a" points="263.5,486.5 259.9,487 259.9,486"/>
<polygon class="a" points="263.5,486.5 267.1,486 267.1,487"/>
<polygon class="a" points="283.5,486.5 279.9,487 279.9,486"/>
<polygon class="a" points="283.5,486.5 287.1,486 287.1,487"/>
<polygon class="a" points="348.3,486.5 344.7,487 344.7,486"/>
<polygon class="a" points="348.3,486.5 351.9,486 351.9,487"/>
<polygon class="a" points="388.1,486.5 384.5,487 384.5,486"/>
<polygon class="a" points="388.1,486.5 391.7,486 391.7,487"/>
<polygon class="a" points="487.8,486.5 484.2,487 484.2,486"/>
<text class="t" transform="translate(91.35 482.6) scale(0.8 1)" y="2.66" font-size="7.4" text-anchor="middle">478</text>
<text class="t" transform="translate(158.9 482.6) scale(0.8 1)" y="2.66" font-size="7.4" text-anchor="middle">200</text>
<text class="t" transform="translate(211.2 482.6) scale(0.8 1)" y="2.66" font-size="7.4" text-anchor="middle">325</text>
<text class="t" transform="translate(253.55 482.6) scale(0.8 1)" y="2.66" font-size="7.4" text-anchor="middle">100</text>
<text class="t" transform="translate(273.5 482.6) scale(0.8 1)" y="2.66" font-size="7.4" text-anchor="middle">100</text>
<text class="t" transform="translate(315.9 482.6) scale(0.8 1)" y="2.66" font-size="7.4" text-anchor="middle">325</text>
<text class="t" transform="translate(368.2 482.6) scale(0.8 1)" y="2.66" font-size="7.4" text-anchor="middle">200</text>
<text class="t" transform="translate(437.95 482.6) scale(0.8 1)" y="2.66" font-size="7.4" text-anchor="middle">505</text>
<line class="d" x1="43.7" y1="502.9" x2="487.8" y2="502.9"/>
<polygon class="a" points="43.7,502.9 47.3,502.4 47.3,503.4"/>
<polygon class="a" points="487.8,502.9 484.2,503.4 484.2,502.4"/>
<text class="t" transform="translate(265.8 499.2) scale(0.8 1)" y="2.66" font-size="7.4" text-anchor="middle">2231</text>
<line class="cs" x1="43.7" y1="474.3" x2="43.7" y2="504.6"/>
<line class="cs" x1="487.8" y1="474.3" x2="487.8" y2="504.6"/>
<line class="d" x1="253" y1="423.4" x2="273" y2="423.4"/>
<polygon class="a" points="263.5,423.4 259.9,423.9 259.9,422.9"/>
<polygon class="a" points="266,423.4 269.6,422.9 269.6,423.9"/>
<text class="t" transform="translate(257 419.8) scale(0.8 1)" y="2.52" font-size="7" text-anchor="middle">12.5</text>
<line class="d" x1="55.5" y1="382.6" x2="91.6" y2="382.6"/>
<polygon class="a" points="55.5,382.6 59.1,382.1 59.1,383.1"/>
<line class="d" x1="55.5" y1="379.2" x2="55.5" y2="390.6"/>
<polygon class="a" points="91.6,382.6 88,383.1 88,382.1"/>
<line class="d" x1="91.6" y1="379.2" x2="91.6" y2="390.6"/>
<text class="t" transform="translate(73.55 378.8) scale(0.8 1)" y="2.66" font-size="7.4" text-anchor="middle">180</text>
<line class="d" x1="440.6" y1="382.8" x2="476.6" y2="382.8"/>
<polygon class="a" points="440.6,382.8 444.2,382.3 444.2,383.3"/>
<line class="d" x1="440.6" y1="379.4" x2="440.6" y2="390.8"/>
<polygon class="a" points="476.6,382.8 473,383.3 473,382.3"/>
<line class="d" x1="476.6" y1="379.4" x2="476.6" y2="390.8"/>
<text class="t" transform="translate(458.6 379.4) scale(0.8 1)" y="2.66" font-size="7.4" text-anchor="middle">180</text>
<line class="d" x1="63.5" y1="460.6" x2="83.6" y2="460.6"/>
<polygon class="a" points="63.5,460.6 67.1,460.1 67.1,461.1"/>
<polygon class="a" points="83.6,460.6 80,461.1 80,460.1"/>
<text class="t" transform="translate(73.55 456.8) scale(0.8 1)" y="2.66" font-size="7.4" text-anchor="middle">100</text>
<line class="d" x1="448.5" y1="459.6" x2="468.8" y2="459.6"/>
<polygon class="a" points="448.5,459.6 452.1,459.1 452.1,460.1"/>
<polygon class="a" points="468.8,459.6 465.2,460.1 465.2,459.1"/>
<text class="t" transform="translate(458.65 456.3) scale(0.8 1)" y="2.66" font-size="7.4" text-anchor="middle">100</text>
<line class="d" x1="94.9" y1="435.2" x2="94.9" y2="465.4"/>
<polygon class="a" points="94.9,435.2 95.4,438.8 94.4,438.8"/>
<line class="d" x1="89" y1="435.2" x2="98" y2="435.2"/>
<polygon class="a" points="94.9,465.4 94.4,461.8 95.4,461.8"/>
<line class="d" x1="89" y1="465.4" x2="98" y2="465.4"/>
<text class="t" transform="translate(91.6 450.3) rotate(-90) scale(0.8 1)" y="2.66" font-size="7.4" text-anchor="middle">150</text>
<line class="d" x1="437.1" y1="435.2" x2="437.1" y2="465.4"/>
<polygon class="a" points="437.1,435.2 437.6,438.8 436.6,438.8"/>
<line class="d" x1="434.3" y1="435.2" x2="443.4" y2="435.2"/>
<polygon class="a" points="437.1,465.4 436.6,461.8 437.6,461.8"/>
<line class="d" x1="434.3" y1="465.4" x2="443.4" y2="465.4"/>
<text class="t" transform="translate(433.6 450.3) rotate(-90) scale(0.8 1)" y="2.66" font-size="7.4" text-anchor="middle">150</text>
<line class="d" x1="113.7" y1="426.6" x2="113.7" y2="474.3"/>
<polygon class="a" points="113.7,426.6 114.2,430.2 113.2,430.2"/>
<polygon class="a" points="113.7,474.3 113.2,470.7 114.2,470.7"/>
<text class="t" transform="translate(110 450.45) rotate(-90) scale(0.8 1)" y="2.66" font-size="7.4" text-anchor="middle">240</text>
<text class="t" transform="translate(73.4 415.4) scale(0.8 1)" y="2.52" font-size="7" text-anchor="middle">φ120</text>
<line class="d" x1="79.6" y1="415.6" x2="85.2" y2="416.6"/>
<text class="t" transform="translate(458.2 415.3) scale(0.8 1)" y="2.52" font-size="7" text-anchor="middle">φ120</text>
<line class="d" x1="463.6" y1="414.9" x2="469.2" y2="415.8"/>
<line class="d" x1="472.9" y1="424.3" x2="467.1" y2="437.1"/>
<text class="t" transform="translate(468.4 428.9) rotate(-52) scale(0.8 1)" y="2.38" font-size="6.6" text-anchor="middle">R20</text>
<line class="d" x1="15.6" y1="392.3" x2="15.6" y2="508.4"/>
<polygon class="a" points="15.6,392.3 16.1,395.9 15.1,395.9"/>
<line class="d" x1="12" y1="392.3" x2="22.6" y2="392.3"/>
<polygon class="a" points="15.6,508.4 15.1,504.8 16.1,504.8"/>
<line class="d" x1="12" y1="508.4" x2="22.6" y2="508.4"/>
<text class="t" transform="translate(11.6 450.35) rotate(-90) scale(0.8 1)" y="2.66" font-size="7.4" text-anchor="middle">580</text>
<line class="d" x1="31.4" y1="392.3" x2="31.4" y2="508.4"/>
<polygon class="a" points="31.4,392.3 31.9,395.9 30.9,395.9"/>
<line class="d" x1="27.6" y1="392.3" x2="38.9" y2="392.3"/>
<polygon class="a" points="31.4,414.4 30.9,410.8 31.9,410.8"/>
<polygon class="a" points="31.4,414.4 31.9,418 30.9,418"/>
<line class="d" x1="27.6" y1="414.4" x2="38.9" y2="414.4"/>
<polygon class="a" points="31.4,486.4 30.9,482.8 31.9,482.8"/>
<polygon class="a" points="31.4,486.4 31.9,490 30.9,490"/>
<line class="d" x1="27.6" y1="486.4" x2="38.9" y2="486.4"/>
<polygon class="a" points="31.4,508.4 30.9,504.8 31.9,504.8"/>
<line class="d" x1="27.6" y1="508.4" x2="38.9" y2="508.4"/>
<text class="t" transform="translate(28 403.35) rotate(-90) scale(0.8 1)" y="2.66" font-size="7.4" text-anchor="middle">110</text>
<text class="t" transform="translate(28 450.4) rotate(-90) scale(0.8 1)" y="2.66" font-size="7.4" text-anchor="middle">360</text>
<text class="t" transform="translate(28 497.4) rotate(-90) scale(0.8 1)" y="2.66" font-size="7.4" text-anchor="middle">110</text>
<line class="d" x1="494.3" y1="392.3" x2="494.3" y2="508.4"/>
<polygon class="a" points="494.3,392.3 494.8,395.9 493.8,395.9"/>
<line class="d" x1="487" y1="392.3" x2="498.6" y2="392.3"/>
<polygon class="a" points="494.3,414.4 493.8,410.8 494.8,410.8"/>
<polygon class="a" points="494.3,414.4 494.8,418 493.8,418"/>
<line class="d" x1="487" y1="414.4" x2="498.6" y2="414.4"/>
<polygon class="a" points="494.3,486.4 493.8,482.8 494.8,482.8"/>
<polygon class="a" points="494.3,486.4 494.8,490 493.8,490"/>
<line class="d" x1="487" y1="486.4" x2="498.6" y2="486.4"/>
<polygon class="a" points="494.3,508.4 493.8,504.8 494.8,504.8"/>
<line class="d" x1="487" y1="508.4" x2="498.6" y2="508.4"/>
<text class="t" transform="translate(490.8 403.35) rotate(-90) scale(0.8 1)" y="2.66" font-size="7.4" text-anchor="middle">110</text>
<text class="t" transform="translate(490.8 450.4) rotate(-90) scale(0.8 1)" y="2.66" font-size="7.4" text-anchor="middle">360</text>
<text class="t" transform="translate(490.8 497.4) rotate(-90) scale(0.8 1)" y="2.66" font-size="7.4" text-anchor="middle">110</text>
<line class="d" x1="510" y1="392.3" x2="510" y2="508.4"/>
<polygon class="a" points="510,392.3 510.5,395.9 509.5,395.9"/>
<line class="d" x1="502.9" y1="392.3" x2="514.3" y2="392.3"/>
<polygon class="a" points="510,508.4 509.5,504.8 510.5,504.8"/>
<line class="d" x1="502.9" y1="508.4" x2="514.3" y2="508.4"/>
<text class="t" transform="translate(506.6 450.35) rotate(-90) scale(0.8 1)" y="2.66" font-size="7.4" text-anchor="middle">580</text>
<text class="c cb" transform="translate(265.7 384.7) scale(0.66 1)" y="4.43" font-size="12.3" text-anchor="middle" letter-spacing="1.35" x="0.68">桥墩平面图</text>
<line class="u" x1="235" y1="392.9" x2="291.4" y2="392.9"/>
<text class="c" transform="scale(0.82 1)" x="316.95 316.95 316.95 316.95" y="435.42 445.42 455.42 465.42" font-size="7" text-anchor="middle">桥梁中线</text>
<text class="c" transform="scale(0.82 1)" x="328.66 328.66 328.66 328.66" y="435.42 445.42 455.42 465.42" font-size="7" text-anchor="middle">桥墩中线</text>
<path class="d" d="M530.9,492.9 V422.9 L527.1,436.3"/>
<text class="c" transform="translate(525.8 461.6) rotate(-90) scale(0.93 1)" y="2.45" font-size="6.8" text-anchor="middle">路线前进方向</text>
<text class="t tl" transform="translate(614.6 22.9) scale(0.68 1)" y="5.11" font-size="14.2" text-anchor="start">A</text>
<text class="t tl" transform="translate(625 21.9) scale(0.78 1)" y="5.11" font-size="14.2" text-anchor="middle">–</text>
<text class="t tl" transform="translate(629.9 22.9) scale(0.68 1)" y="5.11" font-size="14.2" text-anchor="start">A</text>
<text class="c cb" transform="translate(646.6 23) scale(0.66 1)" y="4.25" font-size="11.8" text-anchor="middle" letter-spacing="1.6" x="0.8">剖面</text>
<line class="u" x1="614.7" y1="32" x2="656.6" y2="32"/>
<line class="d" x1="609.4" y1="49.4" x2="657.2" y2="49.4"/>
<polygon class="a" points="609.4,49.4 613,48.9 613,49.9"/>
<polygon class="a" points="657.2,49.4 653.6,49.9 653.6,48.9"/>
<text class="t" transform="translate(633.3 45.8) scale(0.8 1)" y="2.66" font-size="7.4" text-anchor="middle">240</text>
<line class="d" x1="609.4" y1="46.4" x2="609.4" y2="71.75"/>
<line class="d" x1="657.2" y1="46.4" x2="657.2" y2="71.75"/>
<line class="d" x1="609.4" y1="61.5" x2="657.2" y2="61.5"/>
<polygon class="a" points="609.4,61.5 613,61 613,62"/>
<polygon class="a" points="620.6,61.5 617,62 617,61"/>
<polygon class="a" points="620.6,61.5 624.2,61 624.2,62"/>
<polygon class="a" points="633.3,61.5 629.7,62 629.7,61"/>
<polygon class="a" points="633.3,61.5 636.9,61 636.9,62"/>
<polygon class="a" points="646,61.5 642.4,62 642.4,61"/>
<polygon class="a" points="646,61.5 649.6,61 649.6,62"/>
<polygon class="a" points="657.2,61.5 653.6,62 653.6,61"/>
<text class="t" transform="translate(615 58) scale(0.8 1)" y="2.66" font-size="7.4" text-anchor="middle">56</text>
<text class="t" transform="translate(626.95 58) scale(0.8 1)" y="2.66" font-size="7.4" text-anchor="middle">64</text>
<text class="t" transform="translate(639.65 58) scale(0.8 1)" y="2.66" font-size="7.4" text-anchor="middle">64</text>
<text class="t" transform="translate(651.6 58) scale(0.8 1)" y="2.66" font-size="7.4" text-anchor="middle">56</text>
<path class="l" d="M612.5,71.75 V67.4 H628.7 V71.75"/>
<line class="d" x1="620.6" y1="59.1" x2="620.6" y2="77.5"/>
<path class="l" d="M637.9,71.75 V67.4 H654.1 V71.75"/>
<line class="d" x1="646" y1="59.1" x2="646" y2="77.5"/>
<path class="l" d="M633.3,71.75 H609.8 Q609.4,71.75 609.4,72.15 V95.4 C612.6,109.4 618.3,115.5 618.3,133.5 V242.6"/>
<path class="l" d="M613.4,95.4 C616.6,109.4 622.3,115.5 622.3,133.5 V242.6"/>
<path class="l" d="M633.3,71.75 H656.8 Q657.2,71.75 657.2,72.15 V95.4 C654,109.4 648.3,115.5 648.3,133.5 V242.6"/>
<path class="l" d="M653.2,95.4 C650,109.4 644.3,115.5 644.3,133.5 V242.6"/>
<line class="l" x1="609.4" y1="95.4" x2="657.2" y2="95.4"/>
<line class="m" x1="612.8" y1="71.75" x2="613.2" y2="95.4"/>
<line class="m" x1="653.8" y1="71.75" x2="653.4" y2="95.4"/>
<line class="hs" x1="617.8" y1="111.5" x2="650.8" y2="111.5"/>
<line class="d" x1="633.3" y1="51.6" x2="633.3" y2="71.75"/>
<line class="cl" x1="633.3" y1="71.75" x2="633.3" y2="289.5"/>
<text class="t" transform="translate(607.4 124.5) scale(0.78 1)" y="2.88" font-size="8" text-anchor="middle">R300</text>
<path class="d" d="M600.2,128.3 H614.8 L617.8,127"/>
<text class="t" transform="translate(660 124.5) scale(0.78 1)" y="2.88" font-size="8" text-anchor="middle">R300</text>
<path class="d" d="M668.2,128.3 H652 L648.9,127"/>
<line class="d" x1="589.9" y1="71.75" x2="589.9" y2="242.6"/>
<polygon class="a" points="589.9,71.75 590.4,75.35 589.4,75.35"/>
<polygon class="a" points="589.9,95.4 589.4,91.8 590.4,91.8"/>
<polygon class="a" points="589.9,95.4 590.4,99 589.4,99"/>
<polygon class="a" points="589.9,111.5 589.4,107.9 590.4,107.9"/>
<polygon class="a" points="589.9,111.5 590.4,115.1 589.4,115.1"/>
<polygon class="a" points="589.9,131.5 589.4,127.9 590.4,127.9"/>
<polygon class="a" points="589.9,131.5 590.4,135.1 589.4,135.1"/>
<polygon class="a" points="589.9,242.6 589.4,239 590.4,239"/>
<text class="t" transform="translate(586.8 83.58) rotate(-90) scale(0.8 1)" y="2.66" font-size="7.4" text-anchor="middle">120</text>
<text class="t" transform="translate(586.8 103.45) rotate(-90) scale(0.8 1)" y="2.66" font-size="7.4" text-anchor="middle">80</text>
<text class="t" transform="translate(586.8 121.5) rotate(-90) scale(0.8 1)" y="2.66" font-size="7.4" text-anchor="middle">100</text>
<line class="d" x1="583.2" y1="95.4" x2="596.7" y2="95.4"/>
<line class="d" x1="583.2" y1="111.5" x2="596.7" y2="111.5"/>
<line class="d" x1="583.2" y1="131.5" x2="596.7" y2="131.5"/>
<line class="d" x1="583.4" y1="71.75" x2="596" y2="71.75"/>
<line class="d" x1="587.4" y1="242.6" x2="596.4" y2="242.6"/>
<line class="d" x1="565.5" y1="71.75" x2="565.5" y2="361.2"/>
<polygon class="a" points="565.5,71.75 566,75.35 565,75.35"/>
<polygon class="a" points="565.5,242.6 565,239 566,239"/>
<polygon class="a" points="565.5,242.6 566,246.2 565,246.2"/>
<polygon class="a" points="565.5,286.3 565,282.7 566,282.7"/>
<polygon class="a" points="565.5,286.3 566,289.9 565,289.9"/>
<polygon class="a" points="565.5,361.2 565,357.6 566,357.6"/>
<text class="t" transform="translate(561.8 264.45) rotate(-90) scale(0.8 1)" y="2.66" font-size="7.4" text-anchor="middle">220</text>
<line class="d" x1="562.6" y1="71.75" x2="571.4" y2="71.75"/>
<line class="d" x1="561.3" y1="242.6" x2="571.3" y2="242.6"/>
<line class="d" x1="561.3" y1="286.3" x2="571.3" y2="286.3"/>
<line class="d" x1="561.3" y1="361.2" x2="571.3" y2="361.2"/>
<text class="t" transform="translate(560.9 170) rotate(-90) scale(0.8 1)" y="2.52" font-size="7" text-anchor="middle">H</text>
<text class="c" transform="translate(561.4 327) rotate(-90) scale(0.95 1)" y="1.62" font-size="4.5" text-anchor="middle">桩长</text>
<text class="t" transform="translate(585.3 187.1) rotate(-90) scale(1.04 1)" y="1.87" font-size="5.2" text-anchor="middle">h<tspan font-size="7.4" dy="0.5">(</tspan><tspan class="c" font-size="4.3" dy="-0.9">依墩承载面底</tspan><tspan font-size="7.4" dy="0.9">)</tspan></text>
<rect class="l" x="575.1" y="242.6" width="116.2" height="43.7"/>
<line class="d" x1="575.1" y1="231.5" x2="691.3" y2="231.5"/>
<polygon class="a" points="575.1,231.5 578.7,231 578.7,232"/>
<polygon class="a" points="618.3,231.5 614.7,232 614.7,231"/>
<polygon class="a" points="618.3,231.5 621.9,231 621.9,232"/>
<polygon class="a" points="648.3,231.5 644.7,232 644.7,231"/>
<polygon class="a" points="648.3,231.5 651.9,231 651.9,232"/>
<polygon class="a" points="691.3,231.5 687.7,232 687.7,231"/>
<text class="t" transform="translate(596.7 228) scale(0.8 1)" y="2.66" font-size="7.4" text-anchor="middle">215</text>
<text class="t" transform="translate(633.3 228) scale(0.8 1)" y="2.66" font-size="7.4" text-anchor="middle">150</text>
<text class="t" transform="translate(669.8 228) scale(0.8 1)" y="2.66" font-size="7.4" text-anchor="middle">215</text>
<line class="d" x1="575.1" y1="229" x2="575.1" y2="239.5"/>
<line class="d" x1="691.3" y1="229" x2="691.3" y2="239.5"/>
<line class="d" x1="575.1" y1="264.6" x2="691.3" y2="264.6"/>
<polygon class="a" points="575.1,264.6 578.7,264.1 578.7,265.1"/>
<polygon class="a" points="691.3,264.6 687.7,265.1 687.7,264.1"/>
<text class="t" transform="translate(633.2 260.6) scale(0.8 1)" y="2.66" font-size="7.4" text-anchor="middle">580</text>
<line class="l" x1="585.1" y1="286.3" x2="585.1" y2="326.9"/>
<line class="l" x1="609.3" y1="286.3" x2="609.3" y2="326.9"/>
<line class="l" x1="585.1" y1="337.1" x2="585.1" y2="361.2"/>
<line class="l" x1="609.3" y1="337.1" x2="609.3" y2="361.2"/>
<line class="l" x1="585.1" y1="361.2" x2="609.3" y2="361.2"/>
<path class="l" d="M609.3,326.9 Q603.25,333.1 597.2,326.6"/>
<path class="l" d="M597.2,326.9 Q591.15,321.94 585.1,326.9 Q591.15,332.48 597.2,326.9"/>
<path class="l" d="M609.3,337.1 Q603.25,332.14 597.2,337.1 Q603.25,342.68 609.3,337.1"/>
<path class="l" d="M597.2,337.4 Q591.15,330.9 585.1,337.1"/>
<line class="l" x1="657.3" y1="286.3" x2="657.3" y2="326.9"/>
<line class="l" x1="681.3" y1="286.3" x2="681.3" y2="326.9"/>
<line class="l" x1="657.3" y1="337.1" x2="657.3" y2="361.2"/>
<line class="l" x1="681.3" y1="337.1" x2="681.3" y2="361.2"/>
<line class="l" x1="657.3" y1="361.2" x2="681.3" y2="361.2"/>
<path class="l" d="M657.3,326.9 Q663.3,333.1 669.3,326.6"/>
<path class="l" d="M669.3,326.9 Q675.3,321.94 681.3,326.9 Q675.3,332.48 669.3,326.9"/>
<path class="l" d="M657.3,337.1 Q663.3,332.14 669.3,337.1 Q663.3,342.68 657.3,337.1"/>
<path class="l" d="M669.3,337.4 Q675.3,330.9 681.3,337.1"/>
<line class="cs" x1="597.2" y1="286.3" x2="597.2" y2="361.2"/>
<line class="cs" x1="669.4" y1="286.3" x2="669.4" y2="361.2"/>
<line class="d" x1="575.1" y1="302.1" x2="691.3" y2="302.1"/>
<polygon class="a" points="575.1,302.1 578.7,301.6 578.7,302.6"/>
<polygon class="a" points="585.1,302.1 581.5,302.6 581.5,301.6"/>
<polygon class="a" points="585.1,302.1 588.7,301.6 588.7,302.6"/>
<polygon class="a" points="609.3,302.1 605.7,302.6 605.7,301.6"/>
<polygon class="a" points="609.3,302.1 612.9,301.6 612.9,302.6"/>
<polygon class="a" points="657.3,302.1 653.7,302.6 653.7,301.6"/>
<polygon class="a" points="657.3,302.1 660.9,301.6 660.9,302.6"/>
<polygon class="a" points="681.3,302.1 677.7,302.6 677.7,301.6"/>
<polygon class="a" points="681.3,302.1 684.9,301.6 684.9,302.6"/>
<polygon class="a" points="691.3,302.1 687.7,302.6 687.7,301.6"/>
<text class="t" transform="translate(580.1 298.6) scale(0.8 1)" y="2.66" font-size="7.4" text-anchor="middle">50</text>
<text class="t" transform="translate(597.2 298.6) scale(0.8 1)" y="2.66" font-size="7.4" text-anchor="middle">120</text>
<text class="t" transform="translate(633.3 298.6) scale(0.8 1)" y="2.66" font-size="7.4" text-anchor="middle">240</text>
<text class="t" transform="translate(669.3 298.6) scale(0.8 1)" y="2.66" font-size="7.4" text-anchor="middle">120</text>
<text class="t" transform="translate(686.3 298.6) scale(0.8 1)" y="2.66" font-size="7.4" text-anchor="middle">50</text>
<line class="d" x1="575.1" y1="295.1" x2="575.1" y2="305.6"/>
<line class="d" x1="691.3" y1="295.1" x2="691.3" y2="305.6"/>
<line class="d" x1="575.1" y1="318.2" x2="691.3" y2="318.2"/>
<polygon class="a" points="575.1,318.2 578.7,317.7 578.7,318.7"/>
<polygon class="a" points="597.2,318.2 593.6,318.7 593.6,317.7"/>
<polygon class="a" points="597.2,318.2 600.8,317.7 600.8,318.7"/>
<polygon class="a" points="669.4,318.2 665.8,318.7 665.8,317.7"/>
<polygon class="a" points="669.4,318.2 673,317.7 673,318.7"/>
<polygon class="a" points="691.3,318.2 687.7,318.7 687.7,317.7"/>
<text class="t" transform="translate(586.15 314.4) scale(0.8 1)" y="2.66" font-size="7.4" text-anchor="middle">110</text>
<text class="t" transform="translate(633.3 314.4) scale(0.8 1)" y="2.66" font-size="7.4" text-anchor="middle">360</text>
<text class="t" transform="translate(680.35 314.4) scale(0.8 1)" y="2.66" font-size="7.4" text-anchor="middle">110</text>
<line class="d" x1="575.1" y1="314.8" x2="575.1" y2="320.2"/>
<line class="d" x1="691.3" y1="314.8" x2="691.3" y2="320.2"/>
<text class="t tl" transform="translate(687.4 22.9) scale(0.68 1)" y="5.11" font-size="14.2" text-anchor="start">B</text>
<text class="t tl" transform="translate(698.1 21.9) scale(0.78 1)" y="5.11" font-size="14.2" text-anchor="middle">–</text>
<text class="t tl" transform="translate(703.2 22.9) scale(0.68 1)" y="5.11" font-size="14.2" text-anchor="start">B</text>
<text class="c cb" transform="translate(719.4 23) scale(0.66 1)" y="4.25" font-size="11.8" text-anchor="middle" letter-spacing="1.6" x="0.8">断面</text>
<line class="u" x1="687.5" y1="32" x2="730" y2="32"/>
<line class="d" x1="684.7" y1="47.1" x2="732.9" y2="47.1"/>
<polygon class="a" points="684.7,47.1 688.3,46.6 688.3,47.6"/>
<polygon class="a" points="732.9,47.1 729.3,47.6 729.3,46.6"/>
<text class="t" transform="translate(708.8 43.4) scale(0.8 1)" y="2.66" font-size="7.4" text-anchor="middle">240</text>
<line class="d" x1="684.7" y1="44" x2="684.7" y2="69.4"/>
<line class="d" x1="732.9" y1="44" x2="732.9" y2="69.4"/>
<line class="d" x1="684.7" y1="59" x2="732.9" y2="59"/>
<polygon class="a" points="684.7,59 688.3,58.5 688.3,59.5"/>
<polygon class="a" points="696,59 692.4,59.5 692.4,58.5"/>
<polygon class="a" points="696,59 699.6,58.5 699.6,59.5"/>
<polygon class="a" points="708.8,59 705.2,59.5 705.2,58.5"/>
<polygon class="a" points="708.8,59 712.4,58.5 712.4,59.5"/>
<polygon class="a" points="721.6,59 718,59.5 718,58.5"/>
<polygon class="a" points="721.6,59 725.2,58.5 725.2,59.5"/>
<polygon class="a" points="732.9,59 729.3,59.5 729.3,58.5"/>
<text class="t" transform="translate(690.35 55.6) scale(0.8 1)" y="2.66" font-size="7.4" text-anchor="middle">56</text>
<text class="t" transform="translate(702.4 55.6) scale(0.8 1)" y="2.66" font-size="7.4" text-anchor="middle">64</text>
<text class="t" transform="translate(715.2 55.6) scale(0.8 1)" y="2.66" font-size="7.4" text-anchor="middle">64</text>
<text class="t" transform="translate(727.25 55.6) scale(0.8 1)" y="2.66" font-size="7.4" text-anchor="middle">56</text>
<line class="d" x1="708.8" y1="50.2" x2="708.8" y2="69.4"/>
<path class="l" d="M687.8,69.4 V65.3 H704.2 V69.4"/>
<line class="d" x1="696" y1="56.4" x2="696" y2="75"/>
<path class="l" d="M713.4,69.4 V65.3 H729.8 V69.4"/>
<line class="d" x1="721.6" y1="56.4" x2="721.6" y2="75"/>
<path class="l" d="M708.8,69.4 H732.6 Q732.9,69.4 732.9,69.7 V95.4 L729,108.4 Q728.1,111.4 724.6,111.4 H693 Q689.5,111.4 688.6,108.4 L684.7,95.4 V69.7 Q684.7,69.4 685,69.4 Z"/>
<line class="cs" x1="708.8" y1="69.4" x2="708.8" y2="121.6"/>
<line class="d" x1="742.5" y1="69.4" x2="742.5" y2="111.4"/>
<polygon class="a" points="742.5,69.4 743,73 742,73"/>
<polygon class="a" points="742.5,95.4 742,91.8 743,91.8"/>
<polygon class="a" points="742.5,95.4 743,99 742,99"/>
<polygon class="a" points="742.5,111.4 742,107.8 743,107.8"/>
<text class="t" transform="translate(738.8 82.4) rotate(-90) scale(0.8 1)" y="2.66" font-size="7.4" text-anchor="middle">133</text>
<text class="t" transform="translate(738.8 103.4) rotate(-90) scale(0.8 1)" y="2.66" font-size="7.4" text-anchor="middle">80</text>
<line class="d" x1="754.2" y1="69.4" x2="754.2" y2="111.4"/>
<polygon class="a" points="754.2,69.4 754.7,73 753.7,73"/>
<polygon class="a" points="754.2,111.4 753.7,107.8 754.7,107.8"/>
<text class="t" transform="translate(750.4 90.4) rotate(-90) scale(0.8 1)" y="2.66" font-size="7.4" text-anchor="middle">213</text>
<line class="d" x1="735.7" y1="69.4" x2="758" y2="69.4"/>
<line class="d" x1="735" y1="95.4" x2="745.8" y2="95.4"/>
<line class="d" x1="735" y1="111.4" x2="757.4" y2="111.4"/>
<line class="d" x1="678.2" y1="121.4" x2="739.7" y2="121.4"/>
<line class="d" x1="684.7" y1="114.3" x2="684.7" y2="123.8"/>
<line class="d" x1="689.4" y1="114.3" x2="689.4" y2="123.8"/>
<line class="d" x1="693.2" y1="114.3" x2="693.2" y2="123.8"/>
<line class="d" x1="724.4" y1="114.3" x2="724.4" y2="123.8"/>
<line class="d" x1="728.2" y1="114.3" x2="728.2" y2="123.8"/>
<line class="d" x1="732.9" y1="114.3" x2="732.9" y2="123.8"/>
<line class="d" x1="689.4" y1="123.8" x2="689.4" y2="129.2"/>
<line class="d" x1="693.2" y1="123.8" x2="693.2" y2="129.2"/>
<line class="d" x1="724.4" y1="123.8" x2="724.4" y2="129.2"/>
<line class="d" x1="728.2" y1="123.8" x2="728.2" y2="129.2"/>
<polygon class="a" points="684.7,121.4 681.1,121.9 681.1,120.9"/>
<polygon class="a" points="689.4,121.4 693,120.9 693,121.9"/>
<polygon class="a" points="693.2,121.4 696.8,120.9 696.8,121.9"/>
<polygon class="a" points="724.4,121.4 720.8,121.9 720.8,120.9"/>
<polygon class="a" points="728.2,121.4 724.6,121.9 724.6,120.9"/>
<polygon class="a" points="732.9,121.4 736.5,120.9 736.5,121.9"/>
<text class="t" transform="translate(676.9 117.7) scale(0.8 1)" y="2.52" font-size="7" text-anchor="middle">23</text>
<text class="t" transform="translate(708.7 117.8) scale(0.8 1)" y="2.66" font-size="7.4" text-anchor="middle">156</text>
<text class="t" transform="translate(730.5 117.7) scale(0.8 1)" y="2.52" font-size="7" text-anchor="middle">23</text>
<text class="t" transform="translate(691.4 127.8) scale(0.8 1)" y="2.52" font-size="7" text-anchor="middle">19</text>
<text class="t" transform="translate(726.2 127.8) scale(0.8 1)" y="2.52" font-size="7" text-anchor="middle">19</text>
<line class="d" x1="684.7" y1="135.3" x2="732.9" y2="135.3"/>
<polygon class="a" points="684.7,135.3 688.3,134.8 688.3,135.8"/>
<polygon class="a" points="732.9,135.3 729.3,135.8 729.3,134.8"/>
<text class="t" transform="translate(708.8 131.9) scale(0.8 1)" y="2.66" font-size="7.4" text-anchor="middle">240</text>
<line class="d" x1="684.7" y1="128.5" x2="684.7" y2="138.6"/>
<line class="d" x1="732.9" y1="128.5" x2="732.9" y2="138.6"/>
</svg>
</body>
</html>
